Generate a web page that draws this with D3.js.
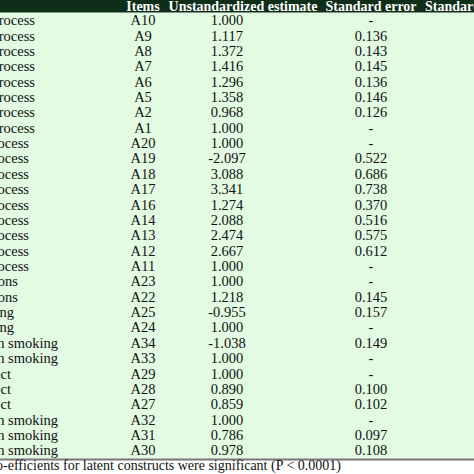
<!DOCTYPE html>
<html><head><meta charset="utf-8">
<script src="https://cdn.jsdelivr.net/npm/d3@7"></script>
<style>body{margin:0;background:#fff}</style></head>
<body><svg id="c" width="474" height="474"></svg>
<script>
const headers = ["Items","Unstandardized estimate","Standard error","Standardized estimate"];
const items = ["A10","A9","A8","A7","A6","A5","A2","A1","A20","A19","A18","A17","A16","A14","A13","A12","A11","A23","A22","A25","A24","A34","A33","A29","A28","A27","A32","A31","A30"];
const estimates = ["1.000","1.117","1.372","1.416","1.296","1.358","0.968","1.000","1.000","-2.097","3.088","3.341","1.274","2.088","2.474","2.667","1.000","1.000","1.218","-0.955","1.000","-1.038","1.000","1.000","0.890","0.859","1.000","0.786","0.978"];
const stdErrors = ["-","0.136","0.143","0.145","0.136","0.146","0.126","-","-","0.522","0.686","0.738","0.370","0.516","0.575","0.612","-","-","0.145","0.157","-","0.149","-","-","0.100","0.102","-","0.097","0.108"];
const labelEnds = [35,35,35,35,35,35,35,35,29,29,29,29,29,29,29,29,29,18,18,14,14,58,58,11,11,11,58,58,58];
const rowLabels = ["Preparation process","Preparation process","Preparation process","Preparation process","Preparation process","Preparation process","Preparation process","Preparation process","Change process","Change process","Change process","Change process","Change process","Change process","Change process","Change process","Change process","Social conditions","Social conditions","Self-monitoring","Self-monitoring","Attitude to hookah smoking","Attitude to hookah smoking","Social effect","Social effect","Social effect","Intention to hookah smoking","Intention to hookah smoking","Intention to hookah smoking"];
const footnote = "All path co-efficients for latent constructs were significant (P < 0.0001)";

const svg = d3.select("#c");
const font = "'Liberation Serif', 'Times New Roman', serif";
const y = d3.scaleBand().domain(d3.range(items.length)).range([12.5, 458]);
const colX = {items:143, est:227, se:371};

svg.append("rect").attr("x",0).attr("y",12.5).attr("width",474).attr("height",446).attr("fill","#e3fbe3");
svg.append("rect").attr("x",0).attr("y",-2).attr("width",474).attr("height",14.5).attr("fill","#0f2e17");
svg.append("line").attr("x1",0).attr("x2",474).attr("y1",459.5).attr("y2",459.5).attr("stroke","#777").attr("stroke-width",2);

const hx = [143, 243, 371, 425];
const ha = ["middle","middle","middle","start"];
svg.selectAll("text.h").data(headers).join("text").attr("class","h")
  .attr("x",(d,i)=>hx[i]).attr("y",11).attr("text-anchor",(d,i)=>ha[i])
  .attr("font-family",font).attr("font-weight","bold").attr("font-size",14).attr("fill","#fff").text(d=>d);

const rows = svg.selectAll("g.r").data(items).join("g").attr("class","r")
  .attr("transform",(d,i)=>`translate(0,${y(i)+y.bandwidth()/2+5})`);
const t = (sel)=>sel.attr("font-family",font).attr("font-size",14.5).attr("fill","#111");
rows.append("text").attr("x",(d,i)=>labelEnds[i]).attr("text-anchor","end").text((d,i)=>rowLabels[i]).call(t);
rows.append("text").attr("x",colX.items).attr("text-anchor","middle").text(d=>d).call(t);
rows.append("text").attr("x",colX.est).attr("text-anchor","middle").text((d,i)=>estimates[i]).call(t);
rows.append("text").attr("x",colX.se).attr("text-anchor","middle").text((d,i)=>stdErrors[i]).call(t);

svg.append("text").attr("x",341).attr("y",470).attr("text-anchor","end").text(footnote).call(t).attr("font-size",14);
</script></body></html>
